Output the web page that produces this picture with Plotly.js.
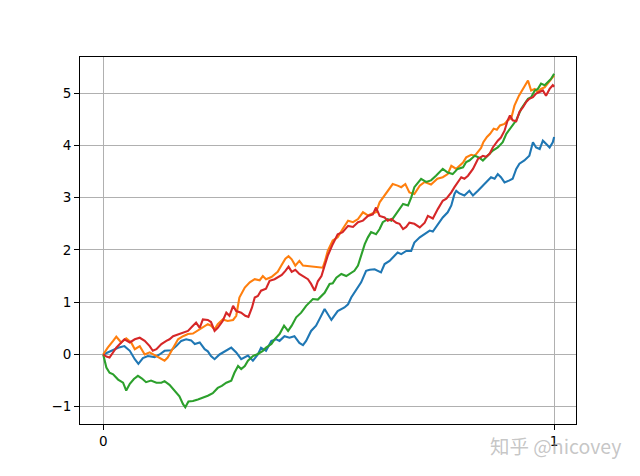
<!DOCTYPE html>
<html>
<head>
<meta charset="utf-8">
<script src="https://cdn.plot.ly/plotly-3.0.1.min.js"></script>
<style>html,body{margin:0;padding:0;background:#fff;}#chart{width:640px;height:476px;}</style>
</head>
<body>
<div id="chart"></div>
<script>
// ---- data ----
const xTickVals = [0, 1];
const xTickText = ["0", "1"];
const yTickVals = [-1, 0, 1, 2, 3, 4, 5];
const watermarkText = "知乎 @nicovey";

const blueX = [0,0.018,0.033,0.047,0.059,0.070,0.078,0.088,0.099,0.114,0.125,0.136,0.151,0.162,0.173,0.184,0.195,0.203,0.214,0.225,0.232,0.239,0.247,0.258,0.269,0.284,0.295,0.306,0.321,0.332,0.343,0.350,0.361,0.373,0.384,0.391,0.402,0.413,0.424,0.435,0.443,0.450,0.461,0.472,0.481,0.491,0.506,0.520,0.535,0.543,0.550,0.565,0.572,0.583,0.591,0.602,0.616,0.624,0.635,0.646,0.653,0.661,0.672,0.683,0.690,0.702,0.713,0.724,0.731,0.742,0.753,0.764,0.772,0.779,0.783,0.790,0.801,0.812,0.820,0.831,0.842,0.853,0.860,0.868,0.875,0.882,0.890,0.901,0.908,0.916,0.923,0.934,0.945,0.953,0.960,0.968,0.975,0.982,0.990,0.997,1.000];
const blueY = [0,0.07,0.13,0.16,0.07,-0.09,-0.18,-0.07,-0.03,-0.05,0.0,0.07,0.08,0.16,0.26,0.29,0.27,0.20,0.23,0.10,0.06,-0.03,-0.09,0.0,0.06,0.13,0.04,-0.09,-0.02,-0.12,0.0,0.13,0.07,0.26,0.29,0.26,0.35,0.32,0.35,0.22,0.18,0.26,0.45,0.55,0.70,0.87,0.66,0.83,0.90,0.96,1.09,1.28,1.38,1.60,1.62,1.63,1.57,1.73,1.79,1.89,1.95,1.92,1.98,1.98,2.14,2.24,2.30,2.37,2.35,2.48,2.62,2.72,2.85,3.07,3.13,3.08,3.04,3.13,3.04,3.13,3.23,3.33,3.39,3.36,3.45,3.39,3.29,3.33,3.36,3.55,3.65,3.71,3.80,4.06,3.96,3.93,4.09,4.03,3.96,4.06,4.16];

const orangeX = [0,0.010,0.022,0.029,0.040,0.051,0.062,0.070,0.081,0.092,0.103,0.114,0.125,0.136,0.143,0.155,0.166,0.177,0.188,0.199,0.210,0.225,0.232,0.239,0.247,0.254,0.265,0.276,0.288,0.295,0.302,0.314,0.325,0.336,0.347,0.354,0.361,0.373,0.380,0.387,0.395,0.404,0.411,0.418,0.426,0.435,0.443,0.454,0.465,0.476,0.487,0.492,0.498,0.509,0.520,0.531,0.543,0.554,0.565,0.576,0.587,0.598,0.605,0.613,0.620,0.631,0.642,0.653,0.661,0.670,0.679,0.690,0.702,0.713,0.727,0.741,0.753,0.764,0.772,0.783,0.790,0.798,0.805,0.816,0.824,0.831,0.838,0.843,0.851,0.858,0.866,0.873,0.880,0.890,0.897,0.905,0.912,0.922,0.931,0.937,0.942,0.949,0.957,0.964,0.971,0.979,0.986,0.993,1.000];
const orangeY = [0,0.13,0.26,0.34,0.23,0.31,0.23,0.10,0.16,0.0,0.04,-0.01,-0.07,-0.12,-0.06,0.13,0.29,0.35,0.39,0.40,0.46,0.53,0.58,0.55,0.48,0.58,0.67,0.64,0.66,0.74,1.09,1.28,1.38,1.44,1.42,1.50,1.44,1.48,1.54,1.58,1.70,1.83,1.88,1.82,1.70,1.79,1.70,1.69,1.68,1.68,1.66,1.79,1.98,2.18,2.24,2.40,2.56,2.53,2.59,2.72,2.66,2.70,2.72,2.91,3.00,3.13,3.26,3.23,3.20,3.26,3.10,3.07,3.23,3.30,3.25,3.36,3.39,3.45,3.61,3.55,3.61,3.67,3.77,3.82,3.80,3.88,3.95,4.06,4.16,4.22,4.32,4.30,4.38,4.41,4.48,4.52,4.76,4.95,5.08,5.18,5.24,5.05,5.08,5.02,5.08,5.11,5.18,5.27,5.34];

const greenX = [0,0.003,0.007,0.014,0.022,0.033,0.044,0.051,0.059,0.068,0.077,0.086,0.095,0.106,0.118,0.129,0.136,0.147,0.158,0.169,0.177,0.182,0.189,0.199,0.210,0.221,0.232,0.243,0.254,0.263,0.273,0.284,0.291,0.299,0.306,0.314,0.321,0.332,0.343,0.354,0.361,0.373,0.380,0.391,0.401,0.410,0.418,0.428,0.439,0.450,0.458,0.465,0.476,0.484,0.491,0.502,0.509,0.517,0.528,0.539,0.550,0.557,0.565,0.572,0.580,0.587,0.594,0.605,0.613,0.620,0.631,0.639,0.650,0.657,0.665,0.676,0.683,0.690,0.698,0.705,0.716,0.727,0.738,0.753,0.764,0.775,0.786,0.798,0.805,0.812,0.824,0.835,0.842,0.853,0.864,0.875,0.886,0.894,0.905,0.916,0.927,0.934,0.942,0.949,0.957,0.964,0.971,0.979,0.986,0.993,1.000];
const greenY = [0,-0.12,-0.25,-0.35,-0.38,-0.48,-0.54,-0.69,-0.56,-0.47,-0.41,-0.46,-0.53,-0.50,-0.54,-0.54,-0.51,-0.58,-0.70,-0.80,-0.95,-1.01,-0.90,-0.89,-0.86,-0.83,-0.79,-0.74,-0.64,-0.60,-0.54,-0.50,-0.35,-0.22,-0.28,-0.22,-0.12,-0.03,0.01,0.07,0.13,0.20,0.29,0.39,0.55,0.45,0.55,0.71,0.80,0.93,1.01,1.06,1.05,1.12,1.18,1.35,1.36,1.47,1.54,1.50,1.57,1.60,1.70,1.89,2.11,2.24,2.34,2.30,2.40,2.53,2.59,2.56,2.69,2.78,2.88,2.85,3.00,3.20,3.29,3.36,3.30,3.33,3.42,3.55,3.48,3.45,3.55,3.58,3.68,3.71,3.80,3.76,3.71,3.80,3.90,3.96,4.06,4.22,4.35,4.48,4.70,4.80,4.89,4.92,5.05,5.08,5.18,5.15,5.21,5.27,5.37];

const redX = [0,0.007,0.014,0.022,0.029,0.040,0.047,0.059,0.070,0.081,0.092,0.103,0.110,0.118,0.129,0.140,0.147,0.155,0.166,0.177,0.188,0.199,0.206,0.214,0.221,0.232,0.239,0.247,0.254,0.265,0.273,0.280,0.288,0.295,0.306,0.315,0.322,0.330,0.336,0.343,0.350,0.361,0.369,0.380,0.389,0.396,0.404,0.411,0.418,0.426,0.435,0.447,0.454,0.461,0.469,0.476,0.484,0.491,0.498,0.509,0.520,0.531,0.543,0.554,0.565,0.576,0.587,0.598,0.605,0.613,0.624,0.631,0.639,0.650,0.657,0.665,0.672,0.679,0.690,0.702,0.713,0.720,0.731,0.742,0.753,0.761,0.772,0.779,0.786,0.794,0.801,0.809,0.820,0.831,0.842,0.849,0.857,0.864,0.875,0.882,0.890,0.897,0.902,0.908,0.916,0.923,0.931,0.938,0.945,0.953,0.960,0.968,0.975,0.982,0.990,0.997,1.000];
const redY = [0,-0.04,-0.06,0.04,0.13,0.23,0.29,0.23,0.29,0.32,0.26,0.16,0.07,0.10,0.20,0.26,0.29,0.35,0.38,0.42,0.45,0.55,0.61,0.51,0.67,0.66,0.62,0.45,0.51,0.64,0.80,0.74,0.93,0.83,0.80,0.74,0.72,0.90,1.09,1.12,1.22,1.26,1.41,1.44,1.48,1.52,1.60,1.68,1.58,1.62,1.54,1.48,1.44,1.35,1.22,1.40,1.50,1.70,1.89,2.11,2.30,2.34,2.46,2.44,2.53,2.56,2.65,2.68,2.81,2.65,2.62,2.56,2.59,2.52,2.50,2.40,2.44,2.52,2.50,2.43,2.52,2.65,2.60,2.78,2.94,2.98,3.10,3.20,3.30,3.39,3.36,3.42,3.55,3.74,3.80,3.78,3.84,3.96,4.09,4.15,4.28,4.48,4.57,4.48,4.46,4.64,4.73,4.83,4.89,4.92,4.99,5.02,5.05,4.95,5.08,5.15,5.12];

const seriesX = [blueX, orangeX, greenX, redX];
const seriesY = [blueY, orangeY, greenY, redY];
const colors = ["#1f77b4", "#ff7f0e", "#2ca02c", "#d62728"];

const traces = seriesX.map((xs, i) => ({
  x: xs, y: seriesY[i], type: "scatter", mode: "lines",
  line: {color: colors[i], width: 2.1}, hoverinfo: "skip"
}));

const axisCommon = {
  showline: true, linecolor: "#000", linewidth: 1, mirror: true,
  ticks: "outside", ticklen: 5, tickwidth: 1, tickcolor: "#000",
  showgrid: true, gridcolor: "#b0b0b0", gridwidth: 1, zeroline: false,
  tickfont: {family: "DejaVu Sans, sans-serif", size: 13.5, color: "#000"}
};

const layout = {
  width: 640, height: 476,
  margin: {l: 80, r: 64, t: 57, b: 52, pad: 0},
  paper_bgcolor: "#fff", plot_bgcolor: "#fff",
  showlegend: false,
  xaxis: Object.assign({}, axisCommon, {
    range: [-0.0515, 1.0485], tickmode: "array", tickvals: xTickVals, ticktext: xTickText
  }),
  yaxis: Object.assign({}, axisCommon, {
    range: [-1.33, 5.69], tickmode: "array", tickvals: yTickVals
  }),
  annotations: [{
    text: watermarkText, xref: "paper", yref: "paper", x: 0.822, y: -0.058,
    xanchor: "left", yanchor: "middle", showarrow: false,
    font: {family: "Noto Sans CJK SC, sans-serif", size: 19.5, color: "rgba(150,150,150,0.55)"}
  }]
};

Plotly.newPlot("chart", traces, layout, {staticPlot: true, displayModeBar: false});
</script>
</body>
</html>
